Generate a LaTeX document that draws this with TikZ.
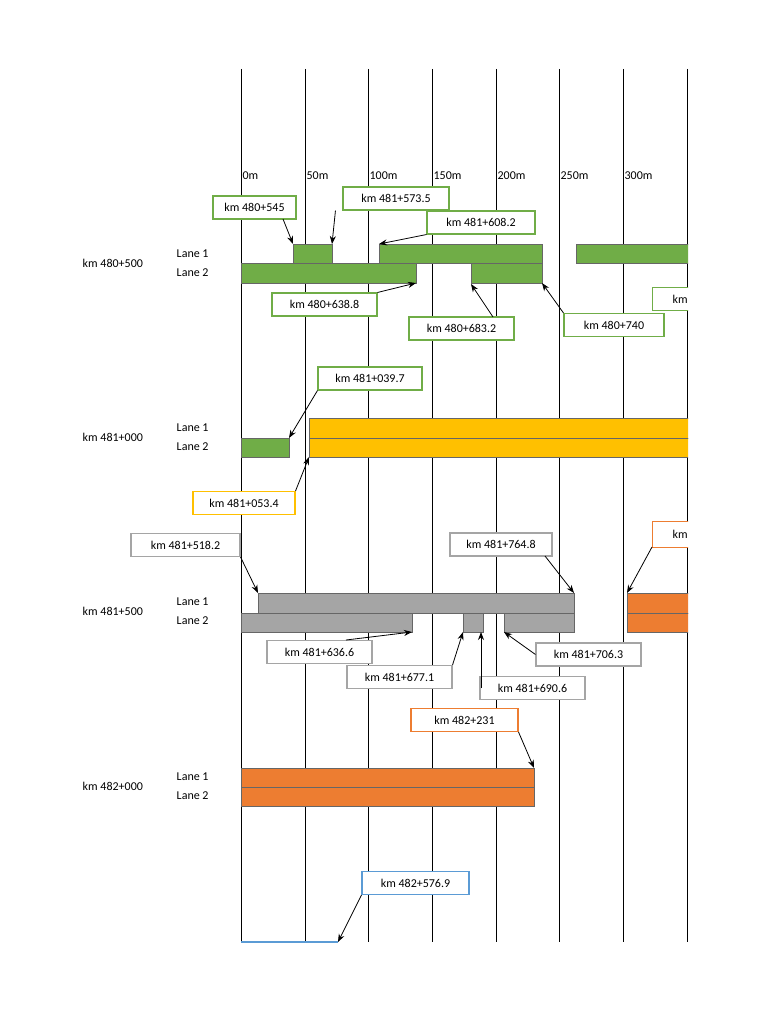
\documentclass[tikz,border=0pt]{standalone}
\usepackage{fontspec}
\setmainfont{Carlito}
\usetikzlibrary{arrows.meta}
\definecolor{cg}{HTML}{70AD47}\definecolor{cgr}{HTML}{A5A5A5}
\definecolor{co}{HTML}{ED7D31}\definecolor{cy}{HTML}{FFC000}\definecolor{cb}{HTML}{5B9BD5}
\begin{document}
\begin{tikzpicture}[x=0.75pt,y=-0.75pt,font=\fontsize{9}{10}\selectfont,
 bar/.style={draw=black!60,line width=0.4pt},
 lbl/.style={draw=#1,fill=white,line width=0.8pt,inner sep=0pt,minimum height=23*0.75pt},
 arr/.style={-{Stealth[length=6pt,width=4.5pt]},line width=0.6pt}]
\useasboundingbox (0,0) rectangle (768,1024);
\fill[white] (0,0) rectangle (768,1024);
% grid
\foreach \x/\t in {241/0m,305/50m,368/100m,432/150m,496/200m,559/250m,623/300m,687/}{
 \draw[line width=0.6pt] (\x,69) -- (\x,942);
 \node[anchor=west,inner sep=1pt] at (\x,176) {\t};}
% row labels
\foreach \y/\k in {263/km 480+500,437/km 481+000,611/km 481+500,786/km 482+000}{
 \node[anchor=west] at (78,\y) {\k};
 \node[anchor=west] at (172,\y-9) {Lane 1};
 \node[anchor=west] at (172,\y+10) {Lane 2};}
\begin{scope}
\clip (0,0) rectangle (688,1024);
% section 1 green
\fill[cg,bar] (293,244) rectangle (332,263);
\fill[cg,bar] (379,244) rectangle (542,263);
\fill[cg,bar] (576,244) rectangle (690,263);
\fill[cg,bar] (241,263) rectangle (416,283);
\fill[cg,bar] (471,263) rectangle (542,283);
\node[lbl=cg,minimum width=104*0.75pt,anchor=north west] (g7) at (652,287) {\hspace*{-30pt}km 4};
% section 2
\fill[cg,bar] (241,438) rectangle (289,457);
\fill[cy,bar] (309,418) rectangle (690,438);
\fill[cy,bar] (309,438) rectangle (690,457);
% section 3
\fill[cgr,bar] (258,593) rectangle (574,613);
\fill[cgr,bar] (241,613) rectangle (412,632);
\fill[cgr,bar] (463,613) rectangle (483,632);
\fill[cgr,bar] (504,613) rectangle (574,632);
\fill[co,bar] (627,593) rectangle (690,613);
\fill[co,bar] (627,613) rectangle (690,632);
\node[lbl=co,minimum width=104*0.75pt,minimum height=26*0.75pt,anchor=north west] (o1) at (652,521) {\hspace*{-30pt}km 4};
\coordinate (o1t) at (652,547);
\coordinate (o1h) at (627,593);
\draw[arr] (o1t) -- (o1h);
\end{scope}
% section 4
\fill[co,bar] (241,768) rectangle (534,787);
\fill[co,bar] (241,787) rectangle (534,806);
\draw[cb,line width=0.8pt] (241,942) -- (338,942);
% labels section 1
\node[lbl=cg,minimum width=83*0.75pt] (g1) at (254.5,207.5) {km 480+545};
\node[lbl=cg,minimum width=106*0.75pt] (g2) at (396,198.5) {km 481+573.5};
\node[lbl=cg,minimum width=108*0.75pt] (g3) at (481,222.5) {km 481+608.2};
\node[lbl=cg,minimum width=105*0.75pt] (g4) at (324.5,304.5) {km 480+638.8};
\node[lbl=cg,minimum width=105*0.75pt] (g5) at (461.5,328.5) {km 480+683.2};
\node[lbl=cg,minimum width=100*0.75pt] (g6) at (614,325) {km 480+740};
\coordinate (h1) at (293,244); \coordinate (h2) at (332,244); \coordinate (h3) at (379,244);
\coordinate (h4) at (416,283); \coordinate (h5) at (471,284); \coordinate (h6) at (542,283);
\draw[arr] (283,219) -- (h1);
\draw[arr] (g2.south west) ++(-7,0) -- (h2);
\draw[arr] (g3.south west) -- (h3);
\draw[arr] (g4.north east) -- (h4);
\draw[arr] (493,317) -- (h5);
\draw[arr] (g6.north west) -- (h6);
% section 2 labels
\node[lbl=cg,minimum width=104*0.75pt] (y1) at (370,378.5) {km 481+039.7};
\node[lbl=cy,minimum width=102*0.75pt] (y2) at (244,503) {km 481+053.4};
\coordinate (h7) at (289,438); \coordinate (h8) at (309,457);
\draw[arr] (y1.south west) -- (h7);
\draw[arr] (y2.north east) -- (h8);
% section 3 labels
\node[lbl=cgr,minimum width=109*0.75pt] (s1) at (185.5,545) {km 481+518.2};
\node[lbl=cgr,minimum width=102*0.75pt] (s2) at (501,544.5) {km 481+764.8};
\node[lbl=cgr,minimum width=105*0.75pt] (s3) at (319.5,652) {km 481+636.6};
\node[lbl=cgr,minimum width=105*0.75pt] (s4) at (399.5,677) {km 481+677.1};
\node[lbl=cgr,minimum width=105*0.75pt] (s5) at (532.5,688) {km 481+690.6};
\node[lbl=cgr,minimum width=105*0.75pt] (s6) at (588.5,654.5) {km 481+706.3};
\coordinate (h9) at (258,593); \coordinate (h10) at (574,593); \coordinate (h11) at (412,632);
\coordinate (h12) at (463,632); \coordinate (h13) at (481,632); \coordinate (h14) at (504,632);
\draw[arr] (s1.south east) -- (h9);
\draw[arr] (545,556) -- (h10);
\draw[arr] (346,640) -- (h11);
\draw[arr] (s4.north east) -- (h12);
\draw[arr] (481,688) -- (h13);
\draw[arr] (s6.west) -- (h14);
% section 4 labels
\node[lbl=co,minimum width=107*0.75pt] (r1) at (464.5,720) {km 482+231};
\coordinate (h15) at (534,768);
\draw[arr] (r1.south east) -- (h15);
\node[lbl=cb,minimum width=107*0.75pt] (b1) at (415.5,883) {km 482+576.9};
\coordinate (h16) at (338,942);
\draw[arr] (b1.south west) -- (h16);
\end{tikzpicture}
\end{document}
